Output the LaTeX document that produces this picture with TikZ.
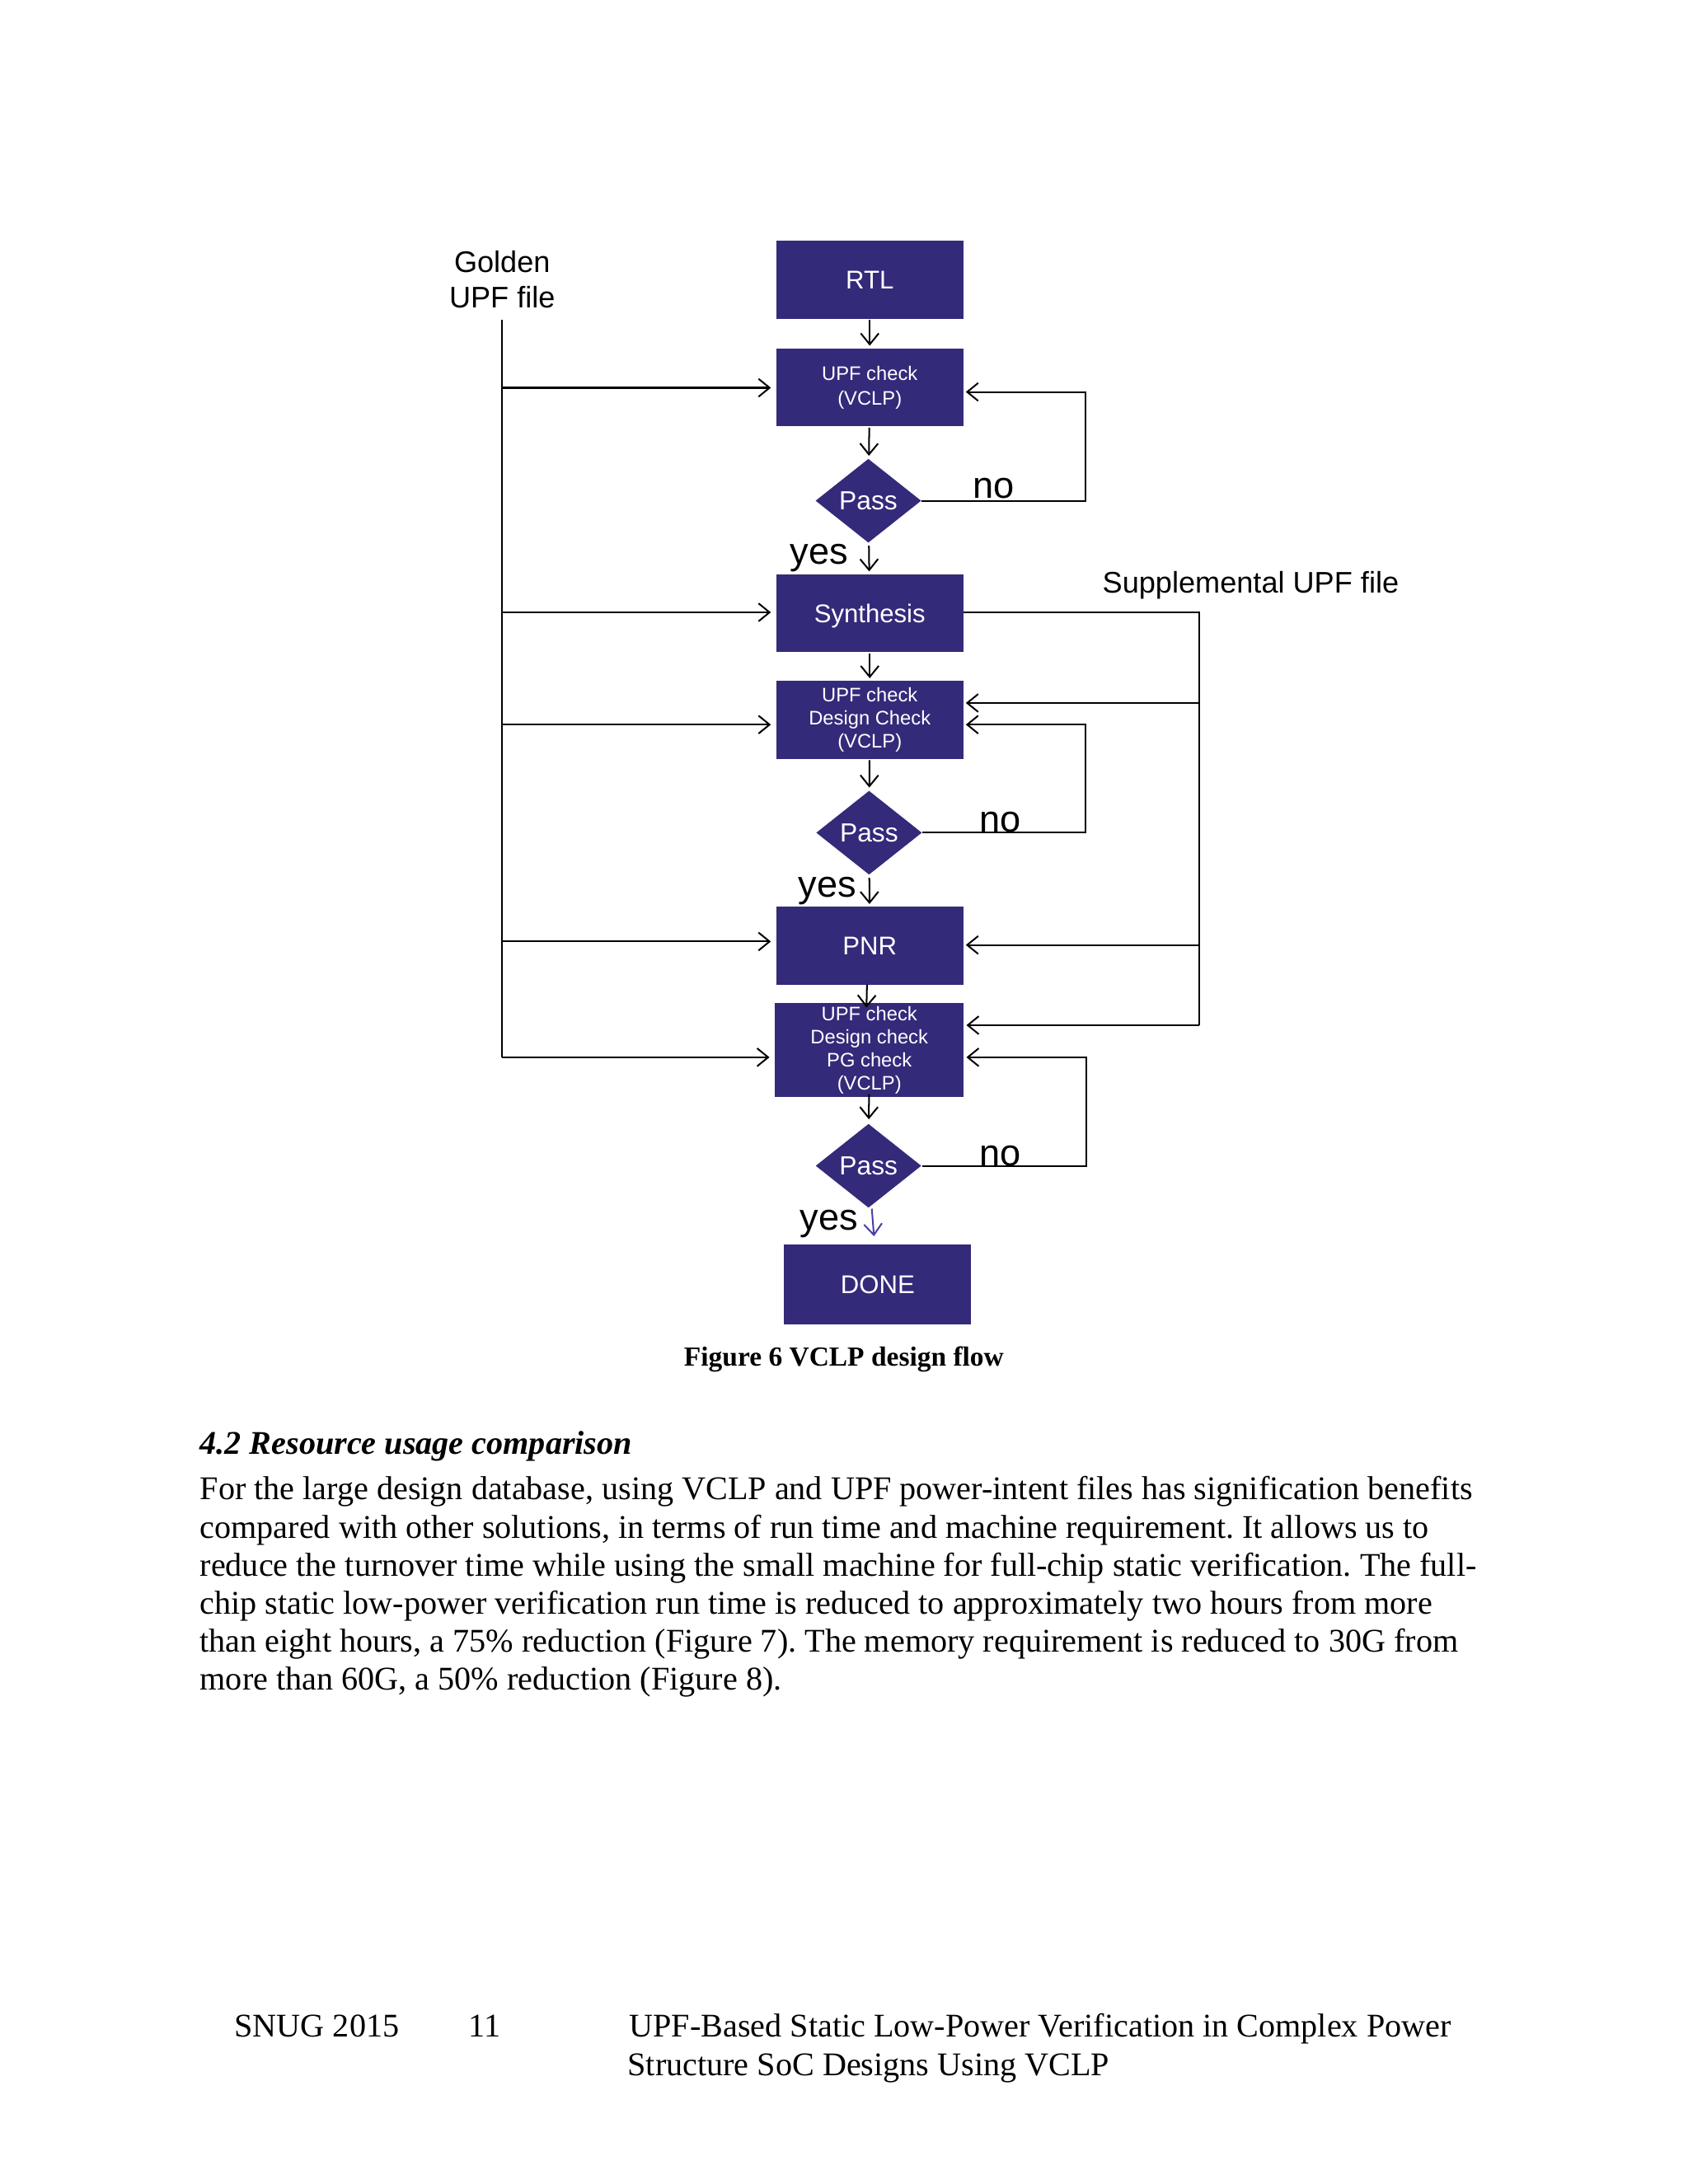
\documentclass[tikz,border=0pt]{standalone}
\usepackage{fontspec}
\setmainfont{Liberation Serif}
\setsansfont{Liberation Sans}
\usetikzlibrary{arrows.meta,shapes.geometric}
\definecolor{boxc}{RGB}{52,42,122}
\definecolor{yesarr}{RGB}{72,64,165}
\frenchspacing
\begin{document}
\begin{tikzpicture}[x=0.5058pt,y=-0.5058pt,
  flowbox/.style={fill=boxc, draw=boxc, text=white, font=\sffamily\fontsize{9.3}{11}\selectfont, inner sep=0pt, align=center, minimum width=67.3pt, minimum height=27.8pt},
  smallbox/.style={flowbox, font=\sffamily\fontsize{7.1}{8.6}\selectfont},
  passnode/.style={diamond, fill=boxc, text=white, font=\sffamily\fontsize{9.5}{11}\selectfont, inner sep=0pt, minimum width=38.4pt, minimum height=30.5pt},
  lbl/.style={font=\sffamily\fontsize{10.8}{13.2}\selectfont, inner sep=0pt},
  yn/.style={font=\sffamily\fontsize{13.5}{15}\selectfont, inner sep=0pt, anchor=base west},
  ln/.style={line width=0.6pt},
  arr/.style={ln, -{Straight Barb[length=4pt,width=6.5pt]}},
  body/.style={font=\fontsize{12}{13.8}\selectfont, inner sep=0pt, anchor=base west},
]
\path[use as bounding box, fill=white] (0,0) rectangle (1210,1565.8);

% flow nodes
\node[flowbox] (rtl) at (623.5,200.5) {RTL};
\node[smallbox, font=\sffamily\fontsize{7.1}{9}\selectfont] (uc1) at (623.5,277.7) {UPF check\\(VCLP)};
\node[passnode] (d1) at (622.5,359) {Pass};
\node[flowbox, text depth=0pt] (syn) at (623.5,439.5) {Synthesis};
\node[smallbox, font=\sffamily\fontsize{7.1}{8.3}\selectfont] (uc2) at (623.5,516.1) {UPF check\\Design Check\\(VCLP)};
\node[passnode] (d2) at (623,597) {Pass};
\node[flowbox] (pnr) at (623.5,678) {PNR};
\node[smallbox, minimum width=68pt, minimum height=33.6pt, font=\sffamily\fontsize{7.1}{8.35}\selectfont] (uc3) at (623.2,752.8) {UPF check\\Design check\\PG check\\(VCLP)};
\node[passnode] (d3) at (622.6,835.8) {Pass};
\node[flowbox, minimum width=67.5pt, minimum height=28.5pt] (done) at (629.2,920.8) {DONE};

% labels
\node[lbl, anchor=base] (gold1) at (360,195) {Golden};
\node[lbl, anchor=base] (gold2) at (360,220.6) {UPF file};
\node[lbl, anchor=base west] (supp) at (790,425.4) {Supplemental UPF file};
\node[yn] (no1) at (697,357) {no};
\node[yn] (no2) at (702,596.7) {no};
\node[yn] (no3) at (702,836) {no};
\node[yn] (yes1) at (566,404.7) {yes};
\node[yn] (yes2) at (572,643) {yes};
\node[yn] (yes3) at (573,882) {yes};

% main vertical flow
\draw[arr, shorten <=0.5pt, shorten >=1pt] (rtl) -- (uc1);
\draw[arr, shorten <=0.5pt, shorten >=1pt] (uc1) -- (d1);
\draw[arr, shorten <=1pt, shorten >=1pt] (d1) -- (syn);
\draw[arr, shorten <=0.5pt, shorten >=1pt] (syn) -- (uc2);
\draw[arr, shorten <=0.5pt, shorten >=1pt] (uc2) -- (d2);
\draw[arr, shorten <=1pt, shorten >=1pt] (d2) -- (pnr);
\draw[arr, shorten >=-1.6pt] ([xshift=-1pt]pnr.south) -- ([xshift=-1pt]uc3.north);
\draw[arr, shorten <=-1pt, shorten >=1.5pt] (uc3) -- (d3);
\draw[arr, draw=yesarr, shorten <=1pt, shorten >=3pt] (d3) -- (done);

% golden UPF spine
\coordinate (gtop) at (360,229.4);
\coordinate (g1) at (360,278);
\coordinate (g2) at (360,439);
\coordinate (g3) at (360,519.5);
\coordinate (g4) at (360,675);
\coordinate (g5) at (360,758);
\draw[ln] (gtop) -- (g5);
\draw[arr, shorten >=2pt] (g1) -- (g1 -| uc1.west);
\draw[arr, shorten >=2pt] (g2) -- (g2 -| syn.west);
\draw[arr, shorten >=2pt] (g3) -- (g3 -| uc2.west);
\draw[arr, shorten >=2pt] (g4) -- (g4 -| pnr.west);
\draw[arr, shorten >=2pt] (g5) -- (g5 -| uc3.west);

% supplemental UPF spine
\coordinate (s0) at (859.7,439);
\coordinate (s1) at (859.7,504);
\coordinate (s2) at (859.7,677.5);
\coordinate (s3) at (859.7,735);
\draw[ln] (s0 -| syn.east) -- (s0) -- (s3);
\draw[arr, shorten >=1pt] (s1) -- (s1 -| uc2.east);
\draw[arr, shorten >=1pt] (s2) -- (s2 -| pnr.east);
\draw[arr, shorten >=1pt] (s3) -- (s3 -| uc3.east);

% no loops
\coordinate (l1a) at (778,359);
\coordinate (l1b) at (778,281);
\draw[arr, shorten >=1pt] (d1.east) -- (l1a) -- (l1b) -- (l1b -| uc1.east);
\coordinate (l2a) at (778,597);
\coordinate (l2b) at (778,519.5);
\draw[arr, shorten >=1pt] (d2.east) -- (l2a) -- (l2b) -- (l2b -| uc2.east);
\coordinate (l3a) at (779,835.8);
\coordinate (l3b) at (779,758);
\draw[arr, shorten >=1pt] (d3.east) -- (l3a) -- (l3b) -- (l3b -| uc3.east);

% caption and text
\node[font=\bfseries\fontsize{10}{12}\selectfont, inner sep=0pt, anchor=base] (cap) at (605,979.6) {Figure 6 VCLP design flow};
\node[body, font=\bfseries\itshape\fontsize{12}{13.8}\selectfont] (head) at (143,1042.8) {4.2 Resource usage comparison};
\node[body] (p1) at (143,1075.3) {For the large design database, using VCLP and UPF power-intent files has signification benefits};
\node[body] (p2) at (143,1102.6) {compared with other solutions, in terms of run time and machine requirement. It allows us to};
\node[body] (p3) at (143,1129.9) {reduce the turnover time while using the small machine for full-chip static verification. The full-};
\node[body] (p4) at (143,1157.2) {chip static low-power verification run time is reduced to approximately two hours from more};
\node[body] (p5) at (143,1184.5) {than eight hours, a 75\% reduction (Figure 7). The memory requirement is reduced to 30G from};
\node[body] (p6) at (143,1211.8) {more than 60G, a 50\% reduction (Figure 8).};

% footer
\node[body] (f1) at (167.8,1460.3) {SNUG 2015};
\node[body] (f2) at (335.6,1460.3) {11};
\node[body] (f3) at (450.8,1460.3) {UPF-Based Static Low-Power Verification in Complex Power};
\node[body] (f4) at (449.6,1487.9) {Structure SoC Designs Using VCLP};
\end{tikzpicture}
\end{document}
